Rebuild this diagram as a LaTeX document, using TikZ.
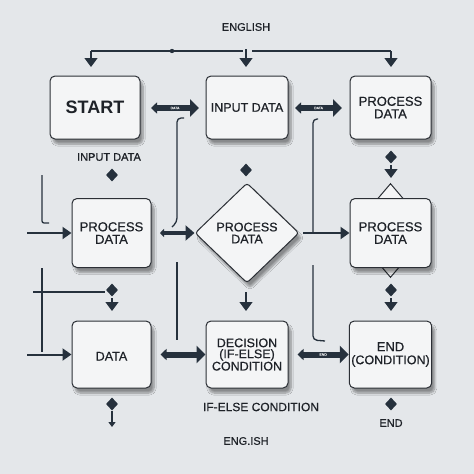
\documentclass[tikz,border=0pt]{standalone}
\usepackage{fontspec}
\setmainfont{Liberation Sans}[FakeBold=0.6]
\newfontfamily\heavy{Liberation Sans Bold}
\usetikzlibrary{shapes.geometric,arrows.meta,shadows.blur}
\definecolor{bg}{HTML}{E4E7EA}
\definecolor{dark}{HTML}{26313D}
\definecolor{edge}{HTML}{2B2F35}
\definecolor{boxfill}{HTML}{F4F5F6}
\definecolor{ink}{HTML}{1E2228}
\tikzset{
  box/.style={draw=edge, line width=1pt, rounded corners=5pt, fill=boxfill, align=center,
    text=ink, font=\fontsize{12.5}{12}\selectfont, inner sep=2pt,
    blur shadow={shadow xshift=3pt, shadow yshift=-5pt, shadow opacity=40, shadow blur steps=8}},
  bigdia/.style={diamond, draw=edge, line width=1pt, rounded corners=3pt, fill=boxfill, align=center,
    text=ink, font=\fontsize{12.5}{12}\selectfont, inner sep=0pt,
    blur shadow={shadow xshift=3pt, shadow yshift=-5pt, shadow opacity=40, shadow blur steps=8}},
  dmark/.style={diamond, fill=dark, inner sep=0pt, minimum width=12pt, minimum height=13pt},
  lbl/.style={text=ink, font=\fontsize{11}{11}\selectfont},
  thin/.style={draw=dark, line width=1.3pt},
  fat/.style={draw=dark, line width=6pt, {Triangle[length=6pt,width=11pt]}-{Triangle[length=9pt,width=17pt]}},
  fatone/.style={draw=dark, line width=4pt, {Triangle[length=4pt,width=8pt]}-{Triangle[length=9pt,width=15pt]}},
  slim/.style={draw=dark, line width=2pt, -{Triangle[length=9pt,width=12pt]}},
  downtip/.style={draw=dark, line width=1.3pt, -{Triangle[length=9pt,width=13pt]}},
  tiny/.style={text=white!85!dark, font=\fontsize{3.5}{3.5}\selectfont}
}
\begin{document}
\begin{tikzpicture}[x=1pt,y=-1pt]
\fill[bg] (0,0) rectangle (474,474);
\useasboundingbox (0,0) rectangle (474,474);

% title
\node[lbl] (eng) at (246,27) {ENGLISH};

% top distribution line
\coordinate (tl) at (91,51);
\coordinate (tm) at (246,49);
\coordinate (tr) at (391,51);
\coordinate (tdot) at (172,51);
\draw[thin] (tl) -- (243,51);
\draw[thin] (252,51) -- (tr);
\fill[dark] (tdot) circle (2.2pt);
\coordinate (a1) at (91,67);
\coordinate (a2) at (246,67);
\coordinate (a3) at (391,67);
\draw[downtip] (tl) -- (a1);
\draw[downtip] (tm) -- (a2);
\draw[downtip] (tr) -- (a3);

% row 1
\node[box, minimum width=90pt, minimum height=63pt, font=\fontsize{18}{18}\selectfont\heavy] (start) at (95,107.5) {START};
\node[box, minimum width=82pt, minimum height=63pt] (input) at (247,107.5) {INPUT DATA};
\node[box, minimum width=81pt, minimum height=63pt, font=\fontsize{13}{12.5}\selectfont] (proc1) at (390.5,107.5) {PROCESS\\DATA};

\draw[fat] (151,108) -- (199,108) node[midway, tiny] (t1) {DATA};
\draw[fat] (295,108) -- (342,108) node[midway, tiny] (t2) {DATA};

\node[lbl] (inlbl) at (109,157) {INPUT DATA};

% small markers row 1-2
\node[dmark] (m1) at (112,175) {};
\node[dmark] (m2) at (246,170) {};
\node[dmark] (m3) at (391,157) {};
\coordinate (m3a) at (391,165);
\coordinate (m3b) at (391,178);
\draw[downtip] (m3a) -- (m3b);

% vertical connector lines
\draw[thin, rounded corners=4pt] (184,118) -- (177,118) -- (177,222) -- (172,227);
\draw[thin] (177,262) -- (177,340);
\draw[thin, rounded corners=4pt] (318,119) -- (313,119) -- (313,232);
\draw[thin, rounded corners=4pt] (313,265) -- (313,340) -- (325,341);

% left side lines
\draw[thin, rounded corners=2pt] (42,175) -- (42,223) -- (49,223);
\draw[thin] (42,268) -- (42,352);
\draw[thin] (33,292) -- (105,292);

% row 2
\node[diamond, draw=edge, line width=1pt, fill=boxfill, minimum width=80pt, minimum height=94pt, inner sep=0pt] (behind) at (390.5,230.5) {};
\node[box, minimum width=79pt, minimum height=69pt, font=\fontsize{13}{12.5}\selectfont] (proc2) at (111.5,233) {PROCESS\\DATA};
\node[bigdia, minimum width=104pt, minimum height=100pt] (dia) at (247,233) {PROCESS\\DATA};
\node[box, minimum width=81pt, minimum height=69pt, font=\fontsize{13}{12.5}\selectfont] (proc3) at (390.5,233) {PROCESS\\DATA};

\coordinate (la) at (27,233);
\coordinate (lc) at (160,233);
\coordinate (ld) at (303,233);
\draw[slim] (la) -- (proc2.west);
\draw[fatone] (lc) -- (dia.west);
\draw[slim] (ld) -- (proc3.west);

% markers row 2-3
\node[dmark] (m4) at (112,290) {};
\draw[downtip] (112,298) -- (112,311);
\draw[downtip] (246,292) -- (246,311);
\node[dmark] (m6) at (391,290) {};
\draw[downtip] (391,298) -- (391,311);

% row 3
\node[box, minimum width=79pt, minimum height=67pt] (data) at (111.5,354.5) {\\DATA};
\node[box, minimum width=82pt, minimum height=67pt, font=\fontsize{12.5}{11}\selectfont] (decision) at (247,354.5) {DECISION\\(IF-ELSE)\\CONDITION};
\node[box, minimum width=81pt, minimum height=67pt] (endb) at (390.5,354.5) {\fontsize{13}{13}\selectfont END\\[1pt](CONDITION)};

\coordinate (lb) at (27,354.5);
\draw[slim] (lb) -- (data.west);
\draw[fat] (data.east) ++(9,0) coordinate (f1) -- (decision.west);
\draw[fat] (decision.east) ++(9,0) coordinate (f2) -- (endb.west) node[midway, tiny] (t3) {END};

% bottom markers and labels
\node[dmark] (m7) at (112,404) {};
\draw[thin, -{Triangle[length=5pt,width=7pt]}] (m7.south) -- (112,427);
\node[lbl, font=\fontsize{12}{12}\selectfont] (ifelse) at (261,407) {IF-ELSE CONDITION};
\node[dmark] (m8) at (391,404) {};
\node[lbl] (endlbl) at (391,423) {END};
\node[lbl] (eng2) at (246,441) {ENG.ISH};
\end{tikzpicture}
\end{document}
